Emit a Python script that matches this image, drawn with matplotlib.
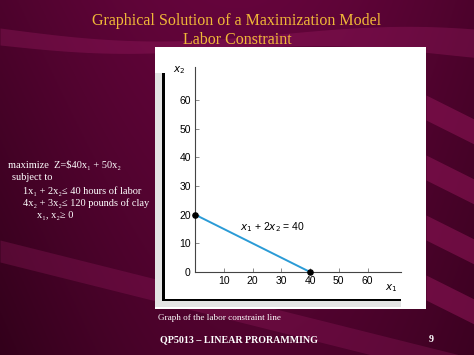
import numpy as np
import matplotlib.pyplot as plt
from matplotlib.patches import Rectangle

# chart data
x_ticks = [10, 20, 30, 40, 50, 60]
y_ticks = [0, 10, 20, 30, 40, 50, 60]
line_x = [0, 40]
line_y = [20, 0]
axis_max = 71.5

title_lines = ["Graphical Solution of a Maximization Model", "Labor Constraint"]
model_lines = [
    "maximize  Z=$40x\u2081 + 50x\u2082",
    "subject to",
    "1x\u2081 + 2x\u2082\u2264 40 hours of labor",
    "4x\u2082 + 3x\u2082\u2264 120 pounds of clay",
    "x\u2081, x\u2082\u2265 0",
]
model_x = [8, 12, 23, 23, 37]
model_y = [165, 178, 191, 203, 216]

W, H = 474, 355
fig = plt.figure(figsize=(W / 100, H / 100), dpi=100)

# slide background
bg = fig.add_axes([0, 0, 1, 1])
bg.set_xlim(0, W)
bg.set_ylim(H, 0)
bg.axis('off')
gx = np.linspace(0, 1, 300)
gy = np.linspace(0, 1, 220)
GX, GY = np.meshgrid(gx, gy)
t = np.clip(0.55 + 0.35 * np.sin(np.pi * GX) - 0.25 * GY - 0.15 * (1 - GX) * GY, 0, 1)
c0 = np.array([0.16, 0.0, 0.08])
c1 = np.array([0.42, 0.02, 0.25])
img = c0 + (c1 - c0) * t[..., None]
bg.imshow(img, extent=[0, W, H, 0], aspect='auto', zorder=0)

# decorative swooshes
xs = np.linspace(0, W, 200)
bg.fill_between(xs, 28 + 10 * np.sin(xs / 90) + xs * 0.02, 45 + 6 * np.sin(xs / 70) + xs * 0.02,
                color='#9a1c62', alpha=0.35, lw=0, zorder=1)
bg.fill_between(xs, 240 + 0.25 * xs, 262 + 0.25 * xs, color='#9a1c62', alpha=0.3, lw=0, zorder=1)
for k in range(4):
    x0 = np.linspace(426, W, 20)
    bg.fill_between(x0, 95 + 60 * k + 0.5 * (x0 - 426), 120 + 60 * k + 0.5 * (x0 - 426),
                    color='#8a1454', alpha=0.6, lw=0, zorder=1)

# figure card
bg.add_patch(Rectangle((155, 47), 271, 262, fc='white', ec='none', zorder=2))
bg.add_patch(Rectangle((155, 73), 8, 234, fc='#e4e4e4', ec='none', zorder=3))
bg.add_patch(Rectangle((155, 300), 246, 7, fc='#e4e4e4', ec='none', zorder=3))
bg.add_patch(Rectangle((162.5, 73), 2.5, 228, fc='black', ec='none', zorder=4))
bg.add_patch(Rectangle((162.5, 298.5), 238.5, 2.5, fc='black', ec='none', zorder=4))

# titles and texts
gold = '#f0b838'
serif = ['Liberation Serif', 'DejaVu Serif']
for s, y in zip(title_lines, [21, 40]):
    bg.text(237, y, s, color=gold, fontsize=11.5, family=serif,
            ha='center', va='center', zorder=5)
for s, x, y in zip(model_lines, model_x, model_y):
    bg.text(x, y, s, color='white', fontsize=7.5, family=serif,
            ha='left', va='center', zorder=5)
bg.text(158, 318, "Graph of the labor constraint line", color='white', fontsize=6.6,
        family=serif, ha='left', va='center', zorder=5)
bg.text(160, 340, "QP5013 \u2013 LINEAR PRORAMMING", color='white', fontsize=7.2,
        family=serif, weight='bold', ha='left', va='center', zorder=5)
bg.text(431, 340, "9", color='white', fontsize=7.2, family=serif,
        weight='bold', ha='center', va='center', zorder=5)

# the graph
ax = fig.add_axes([195 / W, (H - 272) / H, 205.6 / W, 205.2 / H])
ax.patch.set_alpha(0)
ax.set_xlim(0, axis_max)
ax.set_ylim(0, axis_max)
for side in ['top', 'right']:
    ax.spines[side].set_visible(False)
for side in ['left', 'bottom']:
    ax.spines[side].set_color('#444444')
    ax.spines[side].set_linewidth(0.8)
ax.set_xticks(x_ticks)
ax.set_yticks(y_ticks)
ax.tick_params(direction='in', length=3, width=0.6, color='#777777', labelsize=7.5,
               pad=3)
for lab in ax.get_xticklabels() + ax.get_yticklabels():
    lab.set_family('Liberation Sans')
ax.plot(line_x, line_y, color='#2a9bd6', lw=1.4, clip_on=False, zorder=3)
ax.scatter(line_x, line_y, s=14, color='black', clip_on=False, zorder=4)
ax.text(27, 15.7, r"$x_1$ + 2$x_2$ = 40", fontsize=7.5, family='Liberation Sans',
        math_fontfamily='dejavusans', ha='center', va='center')
ax.text(-3.5, axis_max - 1, r"$x_2$", fontsize=7.5, math_fontfamily='dejavusans',
        ha='right', va='center')
ax.text(axis_max - 1, -3.6, r"$x_1$", fontsize=7.5, math_fontfamily='dejavusans',
        ha='right', va='top')

fig.savefig('out.png', dpi=100)
